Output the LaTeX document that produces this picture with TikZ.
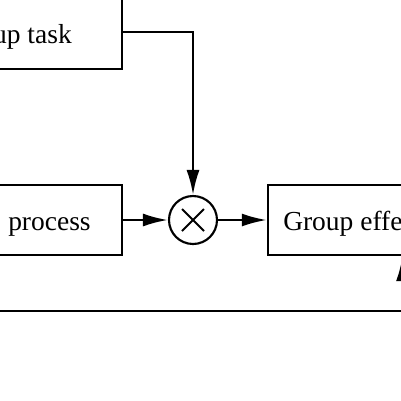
\documentclass[tikz,border=0pt]{standalone}
\usepackage{fontspec}
\setmainfont{Liberation Serif}
\usetikzlibrary{arrows.meta}
\begin{document}
\begin{tikzpicture}[x=0.75pt,y=-0.75pt,
  box/.style={draw, line width=1.8pt, inner sep=0pt, rectangle},
  lbl/.style={inner sep=0pt, font=\fontsize{20.6pt}{24pt}\selectfont},
  conn/.style={line width=1.8pt, -{Latex[length=18.75pt,width=9.75pt]}},
  plain/.style={line width=1.8pt}]
\useasboundingbox (0,0) rectangle (401,401);
\node[box, minimum width=136.5pt, minimum height=66.75pt] (top) at (31,24.5) {};
\node[box, minimum width=136.5pt, minimum height=52.5pt] (proc) at (31,220) {};
\node[box, minimum width=204pt, minimum height=52.5pt] (grp) at (404,220) {};
\node[draw, circle, line width=1.6pt, minimum size=36pt, inner sep=0pt] (x) at (193,220) {};
\draw[line width=1.4pt] (182,209) -- (204,231) (182,231) -- (204,209);
\node[lbl, anchor=base east] (t1) at (72,43.5) {up task};
\node[lbl, anchor=base west] (t2) at (8,230) {process};
\node[lbl, anchor=base west] (t3) at (283,230) {Group effe};
\draw[conn] (top.east |- 0,32) -| (x.north);
\draw[conn] (proc.east) -- (x.west);
\draw[conn] (x.east) -- (grp.west);
\coordinate (bl) at (-10,311);
\coordinate (br) at (500,311);
\draw[plain] (bl) -- (br);
\coordinate (fb) at (402.5,311);
\draw[conn] (fb) -- (fb |- grp.south);
\end{tikzpicture}
\end{document}
